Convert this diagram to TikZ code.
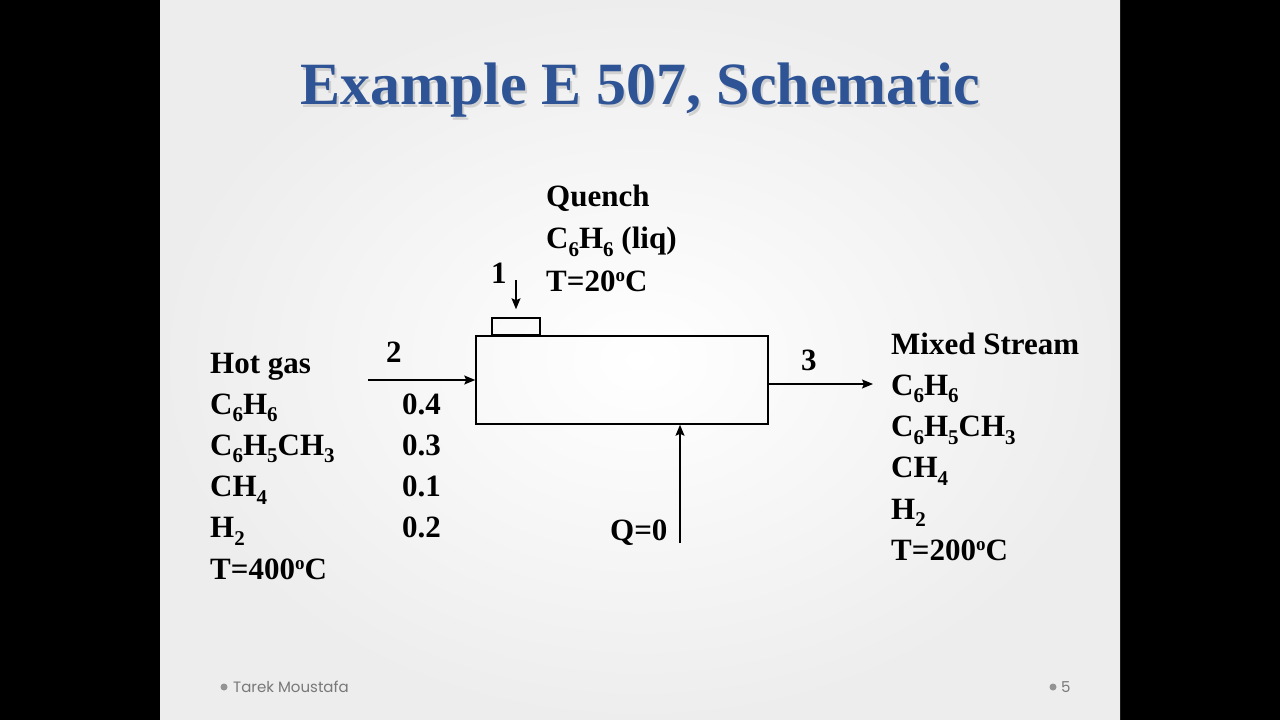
\documentclass[tikz,border=0pt]{standalone}
\usepackage{fontspec}
\setmainfont{Liberation Serif}
\newfontfamily\footfont{Poppins}
\usetikzlibrary{arrows.meta,positioning}
\definecolor{titleblue}{RGB}{46,84,150}
\definecolor{footgray}{RGB}{120,120,120}
\tikzset{
  flow/.style={line width=1.4pt, -{Stealth[length=11pt,width=9pt,inset=2pt]}},
  vessel/.style={draw, line width=1.5pt, rectangle, inner sep=0pt},
  txt/.style={font=\fontsize{31}{36}\selectfont\bfseries, anchor=base west, inner sep=0pt},
  titletxt/.style={font=\fontsize{60}{70}\selectfont\bfseries},
  foottxt/.style={font=\footfont\fontsize{15}{18}\selectfont, text=footgray, anchor=west, inner sep=0pt}
}
\newcommand{\sbs}[1]{\raisebox{-7.5pt}{\fontsize{21}{21}\selectfont #1}}
\newcommand{\dg}{\raisebox{10pt}{\fontsize{19}{19}\selectfont o}}

\begin{document}
\begin{tikzpicture}[x=1pt,y=-1pt]
    \useasboundingbox (0,0) rectangle (1280,720);
    % slide
    \fill[black] (0,0) rectangle (1280,720);
    \shade[inner color=white, outer color=black!7] (160,0) rectangle (1120,720);

    % title with shadow
    \node (shadow) [titletxt, text=black!30, opacity=0.5] at (642,93) {Example E 507, Schematic};
    \node (title) [titletxt, text=titleblue] at (640,90) {Example E 507, Schematic};

    % mixer and quench nozzle
    \node (mixer) [vessel, minimum width=292pt, minimum height=88pt] at (622,380) {};
    \node (nozzle) [vessel, minimum width=48pt, minimum height=16.5pt, anchor=south west, xshift=16pt] at (mixer.north west) {};

    % streams
    \coordinate (in2) at (368,380);
    \coordinate (out3) at (873,384);
    \coordinate (in1) at (516,280);
    \coordinate (heat) at (680,543);
    \draw[flow] (in2) -- (mixer.west);
    \draw[flow] (mixer.east |- out3) -- (out3);
    \draw[flow] (in1) -- ([yshift=8pt]nozzle.north);
    \draw[flow] (heat) -- (mixer.south -| heat);

    \node (s1) [txt] at (491,283) {1};
    \node (s2) [txt] at (386,362) {2};
    \node (s3) [txt] at (801,370) {3};
    \node (qzero) [txt] at (610,540) {Q=0};

    % hot gas feed
    \foreach \line [count=\i from 0] in {Hot gas, C\sbs{6}H\sbs{6}, C\sbs{6}H\sbs{5}CH\sbs{3}, CH\sbs{4}, H\sbs{2}, T=400\dg C}
        \node (hot\i) [txt] at (210, 373+41.2*\i) {\line};
    \foreach \val [count=\i] in {0.4, 0.3, 0.1, 0.2}
        \node (frac\i) [txt] at (402, 373+41.2*\i) {\val};

    % quench
    \foreach \line [count=\i from 0] in {Quench, C\sbs{6}H\sbs{6} (liq), T=20\dg C}
        \node (quench\i) [txt] at (546, 206+42.5*\i) {\line};

    % product
    \foreach \line [count=\i from 0] in {Mixed Stream, C\sbs{6}H\sbs{6}, C\sbs{6}H\sbs{5}CH\sbs{3}, CH\sbs{4}, H\sbs{2}, T=200\dg C}
        \node (mix\i) [txt] at (891, 354+41.3*\i) {\line};

    % footer
    \fill[footgray!80] (224,687) circle (3.5pt);
    \node (author) [foottxt] at (233,687) {Tarek Moustafa};
    \fill[footgray!80] (1053,687) circle (3.5pt);
    \node (page) [foottxt] at (1061,687) {5};
\end{tikzpicture}
\end{document}
